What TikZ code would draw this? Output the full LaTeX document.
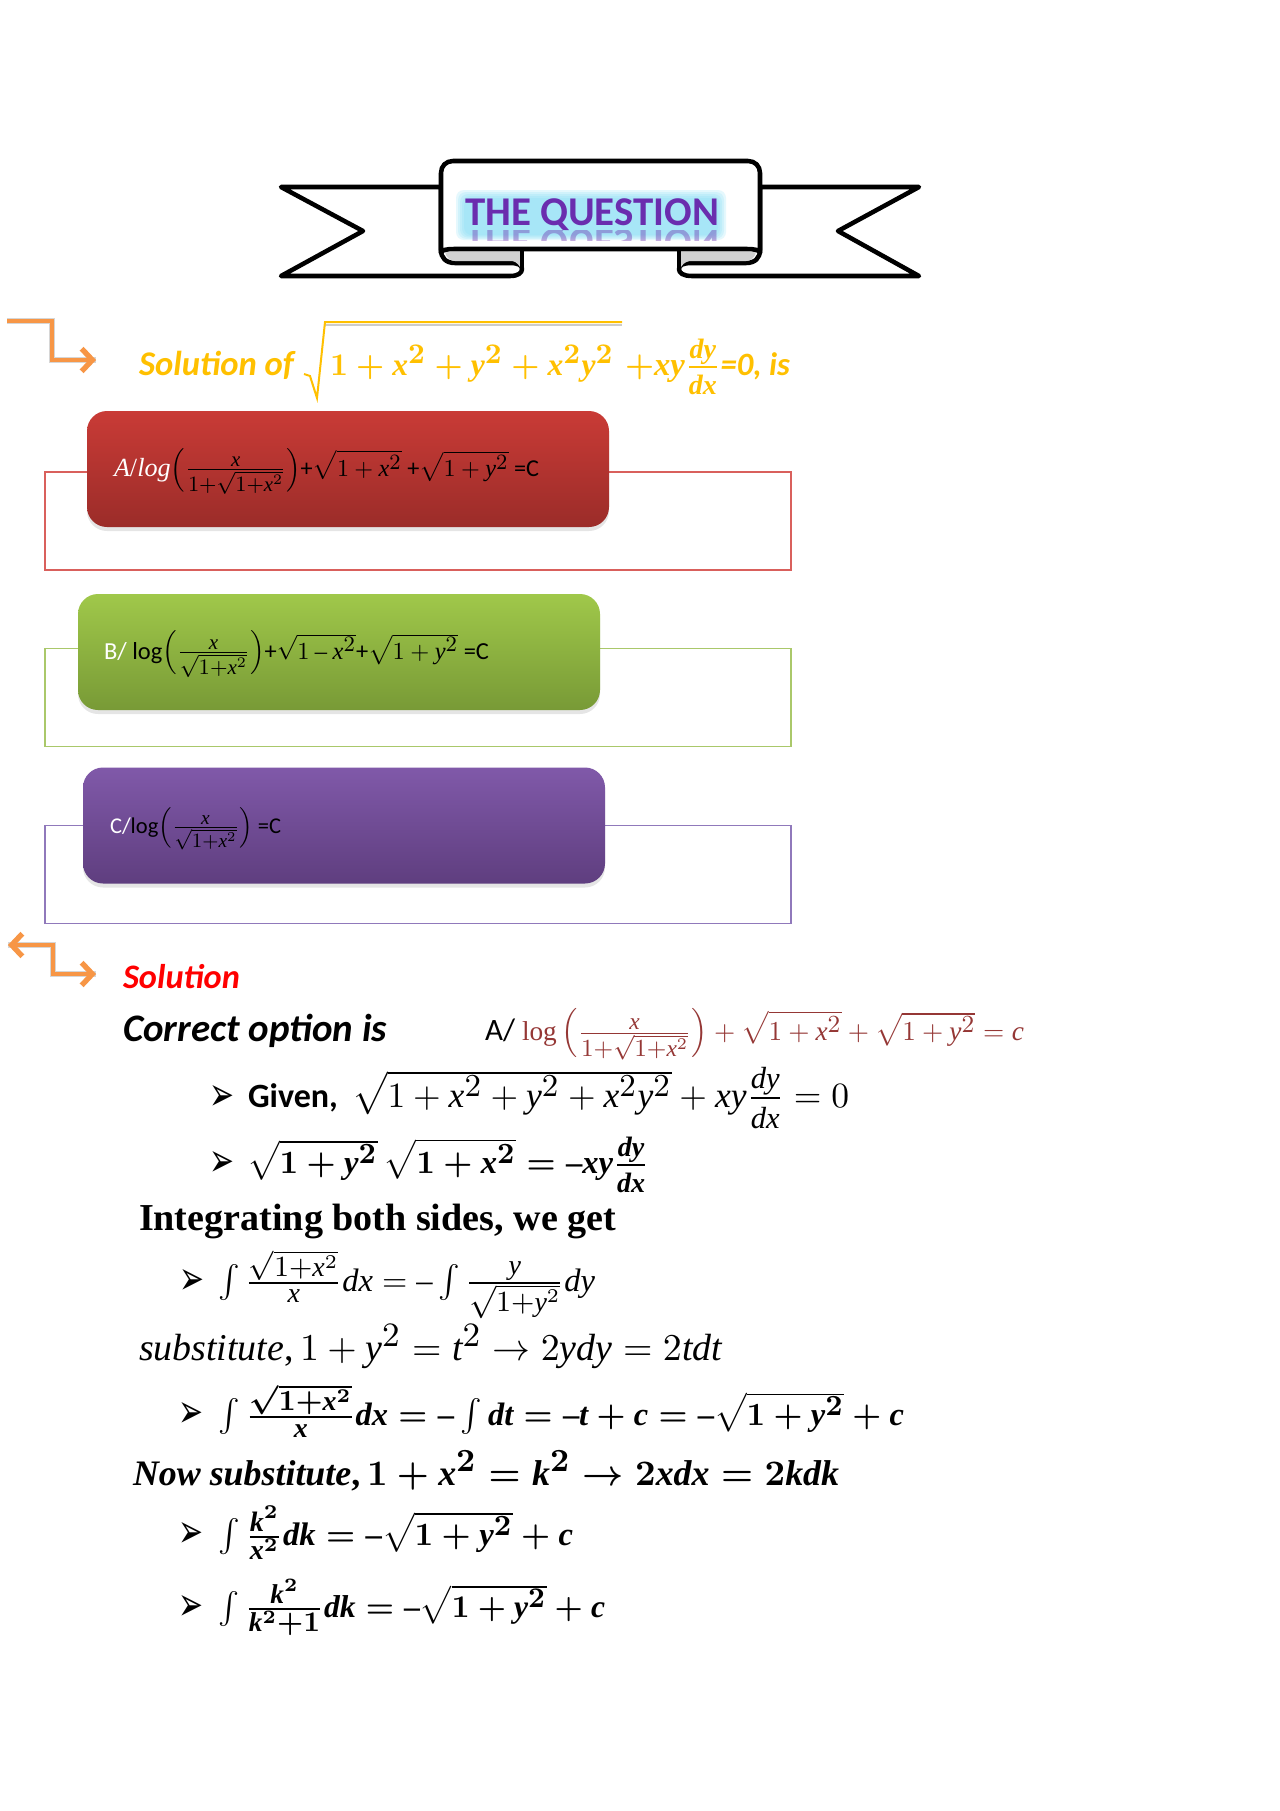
\documentclass[tikz,border=0pt]{standalone}
\usepackage{fontspec}
\usepackage{amsmath}
\usepackage{graphicx}
\usetikzlibrary{arrows.meta}
\setmainfont{Liberation Serif}
\usepackage[italic,defaultmathsizes]{mathastext}
\DeclareMathSizes{10}{10}{8.6}{6.5}
\newfontfamily\carl{Carlito}
\newfontfamily\dejavu{DejaVu Sans}
\newlength\pxu \setlength\pxu{0.75pt}
\newcommand\fw[2]{\resizebox{#1\pxu}{!}{#2}}
\newcommand\bul{\resizebox{25\pxu}{25\pxu}{➢}}
\newcommand\dyx{\frac{dy\rule[-2pt]{0pt}{2pt}}{\rule{0pt}{8pt}dx}}
\definecolor{qyellow}{HTML}{FFC000}
\definecolor{qorange}{HTML}{F79646}
\definecolor{qpurple}{HTML}{6A2DAE}
\definecolor{qglow}{HTML}{7FDCF5}
\definecolor{ansred}{HTML}{953735}
\definecolor{redtop}{HTML}{C93B36}
\definecolor{redbot}{HTML}{9B2C29}
\definecolor{greentop}{HTML}{A0C84A}
\definecolor{greenbot}{HTML}{789A36}
\definecolor{purptop}{HTML}{8059A9}
\definecolor{purpbot}{HTML}{5F3E7F}
\definecolor{redline}{HTML}{D9605C}
\definecolor{greenline}{HTML}{AAC86A}
\definecolor{purpline}{HTML}{9079BB}
\tikzset{
  txt/.style={inner sep=0pt,outer sep=0pt,anchor=base west},
  ribbon/.style={draw=black,line width=3.4pt,line join=round,fill=white},
  foldgray/.style={fill=black!18,draw=none},
  elbow/.style={draw=qorange,line width=3.4pt,line join=miter},
  elbowshade/.style={draw=black,opacity=.16,line width=3.8pt},
  frameb/.style={draw=#1,line width=1.3pt,fill=none,rectangle,inner sep=0pt,minimum width=746\pxu,minimum height=98\pxu},
  optbox/.style 2 args={rectangle,rounded corners=15pt,inner sep=0pt,top color=#1,bottom color=#2,minimum width=522\pxu,minimum height=116\pxu},
  boxshade/.style={rectangle,rounded corners=15pt,fill=black,opacity=.10,inner sep=0pt,minimum width=522\pxu,minimum height=116\pxu},
  bulletm/.style={txt,font=\dejavu}
}
\begin{document}
\begin{tikzpicture}[x=0.75pt,y=-0.75pt,>={Straight Barb[length=8pt,width=17pt,line width=4pt]}]
\useasboundingbox (0,0) rectangle (1280,1811);
\fill[white] (0,0) rectangle (1280,1811);
% ---- banner
\draw[ribbon] (441,187) -- (281,187) -- (363,231) -- (281,276) -- (510,276) .. controls (518,276) and (522,273) .. (522,269) .. controls (522,265) and (518,263) .. (510,263) -- (455,263) .. controls (446,263) and (441,258) .. (441,250) -- cycle;
\draw[ribbon] (760,187) -- (919,187) -- (838,231) -- (919,276) -- (692,276) .. controls (683,276) and (679,273) .. (679,269) .. controls (679,265) and (683,263) .. (692,263) -- (746,263) .. controls (755,263) and (760,258) .. (760,250) -- cycle;
\fill[foldgray] (445,252) -- (520,252) -- (520,267) .. controls (517,262) and (514,261) .. (510,261) -- (455,261) .. controls (450,261) and (446,257) .. (445,252) -- cycle;
\fill[foldgray] (756,252) -- (681,252) -- (681,267) .. controls (684,262) and (688,261) .. (692,261) -- (746,261) .. controls (751,261) and (755,257) .. (756,252) -- cycle;
\draw[draw=black,line width=3.4pt] (522,249) -- (522,269);
\draw[draw=black,line width=3.4pt] (679,249) -- (679,269);
\draw[ribbon] (441,253) -- (441,173) .. controls (441,166) and (446,161) .. (453,161) -- (748,161) .. controls (755,161) and (760,166) .. (760,173) -- (760,253) .. controls (760,250) and (754,249) .. (747,249) -- (454,249) .. controls (447,249) and (441,250) .. (441,253) -- cycle;
% glow
\foreach \i in {0,2,4,6,8}{
  \fill[qglow,opacity=.2,rounded corners=6pt] (456+\i,190+\i) rectangle (726-\i,240-\i*.6);
}
\begin{scope}
  \clip (455,230) rectangle (730,240);
  \node[txt,qpurple,opacity=.4,yscale=-1,anchor=base west] (titlemirror) at (465,229) {\fw{254}{\carl\bfseries THE QUESTION}};
\end{scope}
\node[txt,text=qpurple] (title) at (465,225) {\fw{254}{\carl\bfseries THE QUESTION}};
% ---- first arrow
\coordinate (a1s) at (7,321);
\coordinate (a1m) at (52,321);
\coordinate (a1n) at (52,360);
\coordinate (a1e) at (96,360);
\draw[elbowshade,shift={(3,4)}] (a1s) -- (a1m) -- (a1n) -- (a1e);
\draw[elbow,->] (a1s) -- (a1m) -- (a1n) -- (a1e);
% ---- question
\node[txt,text=qyellow] (qa) at (139,375) {\fw{155}{\carl\bfseries\itshape Solution of}};
\coordinate (r1) at (304,374);
\coordinate (r2) at (310,376);
\coordinate (r3) at (317,398);
\coordinate (r4) at (325,322);
\coordinate (r5) at (622,322);
\draw[black,opacity=.2,line width=1pt] (325,325) -- (622,325);
\draw[qyellow,line width=1.5pt,line join=miter] (r1) -- (r2) -- (r3) -- (r4) -- (r5);
\node[txt,text=qyellow] (qb) at (330,375) {\fw{284}{\mathversion{bold}$1+x^2+y^2+x^2y^2$}};
\node[txt,text=qyellow] (qc) at (625,375) {\fw{165}{\mathversion{bold}$+xy\dyx$\carl\bfseries\itshape =0, is}};
% ---- options
\node[frameb=redline] (fa) at (418,521) {};
\node[boxshade] (sa) at (348,473) {};
\node[optbox={redtop}{redbot}] (ba) at (348,469) {};
\node[frameb=greenline] (fb) at (418,697.5) {};
\node[boxshade] (sb) at (339,656) {};
\node[optbox={greentop}{greenbot}] (bb) at (339,652) {};
\node[frameb=purpline] (fc) at (418,874.5) {};
\node[boxshade] (sc) at (344,829.5) {};
\node[optbox={purptop}{purpbot}] (bc) at (344,825.5) {};
\node[txt] (ta) at (114,476) {\fw{425}{\carl\textcolor{white}{\scalebox{1.08}{$A/log$}}$\left(\frac{x}{1+\sqrt{1+x^2}}\right)$+$\sqrt{1+x^2}$ +$\sqrt{1+y^2}$ =C}};
\node[txt] (tb) at (104,659) {\fw{385}{\carl\textcolor{white}{B/} log$\left(\frac{x}{\sqrt{1+x^2}}\right)$+$\sqrt{1-x^2}$+$\sqrt{1+y^2}$ =C}};
\node[txt] (tc) at (110,833) {\fw{171}{\carl\textcolor{white}{C/}log$\left(\frac{x}{\sqrt{1+x^2}}\right)$ =C}};
% ---- second arrow
\coordinate (a2l) at (8,945);
\coordinate (a2m) at (53,945);
\coordinate (a2n) at (53,974);
\coordinate (a2e) at (96,974);
\draw[elbowshade,shift={(3,4)}] (a2l) -- (a2m) -- (a2n) -- (a2e);
\draw[elbow,<->] (a2l) -- (a2m) -- (a2n) -- (a2e);
% ---- solution
\node[txt,text=red] (sol) at (123,988) {\fw{117}{\carl\bfseries\itshape Solution}};
\node[txt] (corr) at (123,1041) {\fw{264}{\carl\bfseries\itshape Correct option is}};
\node[txt] (ansa) at (485,1040) {\fw{30}{\carl A/}};
\node[txt,text=ansred] (ansf) at (522,1040) {\fw{502}{$\log\left(\frac{x}{1+\sqrt{1+x^2}}\right)+\sqrt{1+x^2}+\sqrt{1+y^2}=c$}};
\node[bulletm] (b1) at (209,1110) {\bul};
\node[txt] (given) at (248,1107) {\fw{90}{\carl\bfseries Given,}};
\node[txt] (gf) at (352,1107) {\fw{497}{$\sqrt{1+x^2+y^2+x^2y^2}+xy\dyx=0$}};
\node[bulletm] (b2) at (209,1176) {\bul};
\node[txt] (l2) at (247,1173) {\fw{402}{\mathversion{bold}$\sqrt{1+y^2}\,\sqrt{1+x^2}=-xy\dyx$}};
\node[txt] (integ) at (139,1230) {\fw{477}{\bfseries Integrating both sides, we get}};
\node[bulletm] (b3) at (179,1294) {\bul};
\node[txt] (l3) at (218,1291) {\fw{377}{$\int\frac{\sqrt{1+x^2}}{x}dx=-\int\frac{y}{\sqrt{1+y^2}}dy$}};
\node[txt] (subs) at (139,1360) {\fw{583}{$\mathit{substitute},1+y^2=t^2\rightarrow 2ydy=2tdt$}};
\node[bulletm] (b4) at (178,1427) {\bul};
\node[txt] (l4) at (218,1425) {\fw{686}{\mathversion{bold}$\int\frac{\sqrt{1+x^2}}{x}dx=-\int dt=-t+c=-\sqrt{1+y^2}+c$}};
\node[txt] (now) at (133,1485) {\fw{706}{\mathversion{bold}$\mathit{Now\ substitute},1+x^2=k^2\rightarrow 2xdx=2kdk$}};
\node[bulletm] (b5) at (178,1547) {\bul};
\node[txt] (l5) at (218,1545) {\fw{355}{\mathversion{bold}$\int\frac{k^2}{x^2}dk=-\sqrt{1+y^2}+c$}};
\node[bulletm] (b6) at (178,1620) {\bul};
\node[txt] (l6) at (218,1617) {\fw{387}{\mathversion{bold}$\int\frac{k^2}{k^2+1}dk=-\sqrt{1+y^2}+c$}};
\end{tikzpicture}
\end{document}
